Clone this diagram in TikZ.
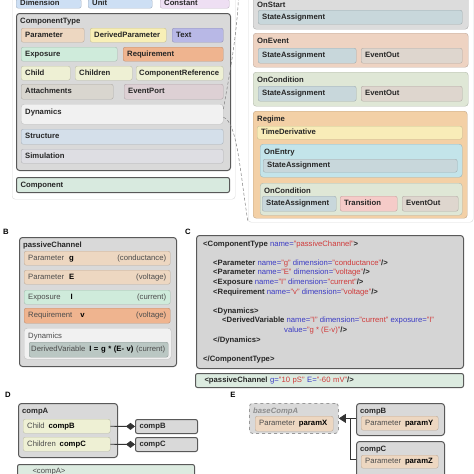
\documentclass[tikz,border=0pt]{standalone}
\usepackage{fontspec}
\setmainfont{Liberation Sans}
\usetikzlibrary{arrows.meta,positioning}

\definecolor{cDim}{HTML}{CDDFF4}
\definecolor{cCon}{HTML}{EEDFF3}
\definecolor{cGrp}{HTML}{D9D9D9}
\definecolor{cPar}{HTML}{EDD7C1}
\definecolor{cDPar}{HTML}{F8EFB6}
\definecolor{cTxt}{HTML}{B8B8E6}
\definecolor{cExp}{HTML}{CFEBDB}
\definecolor{cReq}{HTML}{EFB48F}
\definecolor{cChi}{HTML}{EEF0D4}
\definecolor{cAtt}{HTML}{D9D6CF}
\definecolor{cEvP}{HTML}{DDD0D4}
\definecolor{cDyn}{HTML}{F1F1F1}
\definecolor{cStr}{HTML}{D4DFEA}
\definecolor{cSim}{HTML}{DEDEE3}
\definecolor{cCmp}{HTML}{D8EADF}
\definecolor{cOS}{HTML}{DCDCDC}
\definecolor{cSA}{HTML}{C8D7DB}
\definecolor{cOE}{HTML}{EED3C2}
\definecolor{cEO}{HTML}{DED6CE}
\definecolor{cOC}{HTML}{DFE7D6}
\definecolor{cReg}{HTML}{F3D0A6}
\definecolor{cTD}{HTML}{F8ECB8}
\definecolor{cOEn}{HTML}{C3E4EA}
\definecolor{cTr}{HTML}{F5CBC8}
\definecolor{cDV}{HTML}{BAC7C3}
\definecolor{cCode}{HTML}{D5D5D5}
\definecolor{cInst}{HTML}{DCEBE0}
\definecolor{cBlue}{HTML}{3B3BC4}
\definecolor{cRed}{HTML}{D03A3A}

\newcommand{\fsz}{\fontsize{7.7pt}{9.6pt}\selectfont}
\newcommand{\xattr}[1]{\textcolor{cBlue}{#1}}
\newcommand{\xval}[1]{\textcolor{cRed}{#1}}
\newcommand{\pname}[1]{\textcolor{black}{\bfseries #1}}

\tikzset{
  tb/.style={fill=#1, draw=#1!80!black, rounded corners=2pt, anchor=north west,
    inner xsep=4pt, inner ysep=0pt, text height=5.5pt, text depth=1.5pt,
    align=left, font=\fsz\bfseries, text=black!85},
  tbr/.style={tb=#1, font=\fsz, text=black!70},
  grp/.style={fill=#1, draw=#1!80!black, rounded corners=3pt, anchor=north west, inner sep=0pt},
  dgrp/.style={grp=#1, draw=black!65, line width=1pt},
  lbl/.style={anchor=north west, inner sep=2pt, xshift=2pt, yshift=-3pt,
    font=\fsz\bfseries, text=black!85},
  panel/.style={font=\fsz\bfseries},
  code/.style={anchor=base west, inner sep=0pt, font=\fsz, text=black!85},
  zoomline/.style={draw=black!50, densely dashed, line width=0.5pt},
  conn/.style={draw=black!80, line width=0.8pt},
}

\begin{document}
\begin{tikzpicture}[x=1pt,y=-1pt]
\useasboundingbox (0,0) rectangle (474,474);
\clip (0,0) rectangle (474,474);

% A: element overview
\node[grp=white, draw=black!15, minimum width=223pt, minimum height=209pt] (outL) at (12,-10) {};
\node[tb=cDim, text width=57pt, minimum height=9pt] (dim) at (16,-1) {Dimension};
\node[tb=cDim, text width=56pt, minimum height=9pt] (unit) at (88,-1) {Unit};
\node[tb=cCon, text width=61pt, minimum height=9pt] (const) at (160,-1) {Constant};

\node[dgrp=cGrp, minimum width=214pt, minimum height=157pt] (ct) at (16,13) {};
\node[lbl] (ct-l) at (ct.north west) {ComponentType};
\node[tb=cPar, text width=55pt, minimum height=14pt] (par) at (21,28) {Parameter};
\node[tb=cDPar, text width=68pt, minimum height=14pt] (dpar) at (90,28) {DerivedParameter};
\node[tb=cTxt, text width=43pt, minimum height=14pt] (txt) at (172,28) {Text};
\node[tb=cExp, text width=88pt, minimum height=14pt] (expo) at (21,47) {Exposure};
\node[tb=cReq, text width=92pt, minimum height=14pt] (req) at (123,47) {Requirement};
\node[tb=cChi, text width=41pt, minimum height=14pt] (chi) at (21,66) {Child};
\node[tb=cChi, text width=49pt, minimum height=14pt] (chn) at (75,66) {Children};
\node[tb=cChi, inner xsep=3pt, text width=81pt, minimum height=14pt] (cref) at (136,66) {ComponentReference};
\node[tb=cAtt, text width=84pt, minimum height=15pt] (att) at (21,84) {Attachments};
\node[tb=cEvP, text width=91pt, minimum height=15pt] (evp) at (124,84) {EventPort};
\node[grp=cDyn, minimum width=202pt, minimum height=20pt] (dyn) at (21,104) {};
\node[lbl] (dyn-l) at (dyn.north west) {Dynamics};
\node[tb=cStr, text width=194pt, minimum height=15pt] (str) at (21,129) {Structure};
\node[tb=cSim, text width=194pt, minimum height=14pt] (sim) at (21,149) {Simulation};
\node[tb=cCmp, draw=black!65, line width=1pt, text width=205pt, minimum height=15pt] (comp) at (16,177) {Component};

% A: dynamics in detail
\node[grp=white, draw=black!15, minimum width=225pt, minimum height=232pt] (outR) at (248,-10) {};
\node[grp=cOS, minimum width=215pt, minimum height=32pt] (os) at (253,-3) {};
\node[lbl] (os-l) at (os.north west) {OnStart};
\node[tb=cSA, text width=196pt, minimum height=14pt] (sa0) at (258,10) {StateAssignment};
\node[grp=cOE, minimum width=215pt, minimum height=34pt] (oe) at (253,33) {};
\node[lbl] (oe-l) at (oe.north west) {OnEvent};
\node[tb=cSA, text width=90pt, minimum height=15pt] (sa1) at (258,48) {StateAssignment};
\node[tb=cEO, text width=93pt, minimum height=15pt] (eo1) at (361,48) {EventOut};
\node[grp=cOC, minimum width=215pt, minimum height=34pt] (oc) at (253,72) {};
\node[lbl] (oc-l) at (oc.north west) {OnCondition};
\node[tb=cSA, text width=90pt, minimum height=15pt] (sa2) at (258,86) {StateAssignment};
\node[tb=cEO, text width=93pt, minimum height=15pt] (eo2) at (361,86) {EventOut};
\node[grp=cReg, minimum width=214pt, minimum height=107pt] (reg) at (253,111) {};
\node[lbl] (reg-l) at (reg.north west) {Regime};
\node[tb=cTD, text width=197pt, minimum height=13pt] (td) at (257,126) {TimeDerivative};
\node[grp=cOEn, minimum width=202pt, minimum height=33pt] (oen) at (260,144) {};
\node[lbl] (oen-l) at (oen.north west) {OnEntry};
\node[tb=cSA, text width=186pt, minimum height=13pt] (sa3) at (263,159) {StateAssignment};
\node[grp=cOC, minimum width=202pt, minimum height=32pt] (oc2) at (260,183) {};
\node[lbl] (oc2-l) at (oc2.north west) {OnCondition};
\node[tb=cSA, text width=66pt, minimum height=15pt] (sa4) at (262,196) {StateAssignment};
\node[tb=cTr, text width=49pt, minimum height=15pt] (tr) at (340,196) {Transition};
\node[tb=cEO, text width=48pt, minimum height=15pt] (eo3) at (402,196) {EventOut};

% zoom lines
\coordinate (zoomtop) at (239,-12);
\draw[zoomline] ([yshift=5pt]dyn.east) .. controls +(6,-35) and +(-2,50) .. (zoomtop);
\draw[zoomline] ([yshift=-3pt]dyn.east) .. controls +(14,5) and +(-8,-50) .. (outR.south west);

% B
\node[panel] (lB) at (6,232) {B};
\node[dgrp=cGrp, minimum width=157pt, minimum height=129pt] (pc) at (19,237) {};
\node[lbl] (pc-l) at (pc.north west) {passiveChannel};
\node[tbr=cPar, text width=138pt, minimum height=14pt] (pg) at (24,251) {Parameter\hspace{5pt}\pname{g}\hspace{0pt plus 1filll}(conductance)};
\node[tbr=cPar, text width=138pt, minimum height=14pt] (pE) at (24,270) {Parameter\hspace{5pt}\pname{E}\hspace{0pt plus 1filll}(voltage)};
\node[tbr=cExp, text width=138pt, minimum height=14pt] (pI) at (24,290) {Exposure\hspace{10pt}\pname{I}\hspace{0pt plus 1filll}(current)};
\node[tbr=cReq, text width=138pt, minimum height=15pt] (pv) at (24,308) {Requirement\hspace{8pt}\pname{v}\hspace{0pt plus 1filll}(voltage)};
\node[grp=cDyn, minimum width=147pt, minimum height=31pt] (pdyn) at (24,328) {};
\node[lbl, font=\fsz, text=black!70] (pdyn-l) at (pdyn.north west) {Dynamics};
\node[tbr=cDV, inner xsep=2pt, text width=135pt, minimum height=15pt] (dv) at (29,342) {DerivedVariable\enspace\pname{I = g * (E- v)} (current)};

% C
\node[panel] (lC) at (188,232) {C};
\node[dgrp=cCode, minimum width=267pt, minimum height=133pt] (code) at (196,235) {};
\node[code] (c1) at (203,246) {\textbf{<ComponentType} \xattr{name=}\xval{"passiveChannel"}\textbf{>}};
\node[code] (c2) at (213,265.2) {\textbf{<Parameter} \xattr{name=}\xval{"g"} \xattr{dimension=}\xval{"conductance"}\textbf{/>}};
\node[code] (c3) at (213,274.8) {\textbf{<Parameter} \xattr{name=}\xval{"E"} \xattr{dimension=}\xval{"voltage"}\textbf{/>}};
\node[code] (c4) at (213,284.4) {\textbf{<Exposure} \xattr{name=}\xval{"I"} \xattr{dimension=}\xval{"current"}\textbf{/>}};
\node[code] (c5) at (213,294) {\textbf{<Requirement} \xattr{name=}\xval{"v"} \xattr{dimension=}\xval{"voltage"}\textbf{/>}};
\node[code] (c6) at (213,313.2) {\textbf{<Dynamics>}};
\node[code] (c7) at (222,322.8) {\textbf{<DerivedVariable} \xattr{name=}\xval{"I"} \xattr{dimension=}\xval{"current"} \xattr{exposure=}\xval{"I"}};
\node[code] (c8) at (284,332.4) {\xattr{value=}\xval{"g * (E-v)"}\textbf{/>}};
\node[code] (c9) at (213,342) {\textbf{</Dynamics>}};
\node[code] (c10) at (203,361.2) {\textbf{</ComponentType>}};
\node[tbr=cInst, draw=black!65, line width=1pt, inner xsep=9pt, text width=250pt, minimum height=14pt, text=black!85] (inst) at (195,373)
  {\textbf{<passiveChannel} \xattr{g=}\xval{"10 pS"} \xattr{E=}\xval{"-60 mV"}\textbf{/>}};

% D
\node[panel] (lD) at (8,395) {D};
\node[dgrp=cGrp, minimum width=99pt, minimum height=54pt] (cA) at (18,403) {};
\node[lbl] (cA-l) at (cA.north west) {compA};
\node[tbr=cChi, text width=79pt, minimum height=14pt] (chB) at (23,419) {Child\enspace\pname{compB}};
\node[tbr=cChi, text width=79pt, minimum height=14pt] (chC) at (23,437) {Children\enspace\pname{compC}};
\node[tb=cGrp, draw=black!65, line width=1pt, text width=54pt, minimum height=14pt] (dB) at (135,419) {compB};
\node[tb=cGrp, draw=black!65, line width=1pt, text width=54pt, minimum height=14pt] (dC) at (135,437) {compC};
\draw[conn, -{Diamond[length=9pt,width=7pt]}] (chB) -- (dB);
\draw[conn, -{Diamond[length=9pt,width=7pt]}] (chC) -- (dC);
\node[tbr=cInst, draw=black!65, line width=1pt, inner xsep=15pt, text width=147pt, minimum height=14pt] (aI) at (17,464) {<compA>};

% E
\node[panel] (lE) at (233,395) {E};
\node[grp=cGrp, draw=black!40, dashed, line width=0.8pt, minimum width=89pt, minimum height=30pt] (base) at (249,403) {};
\node[lbl, font=\fsz\bfseries\itshape, text=black!45] (base-l) at (base.north west) {baseCompA};
\node[tbr=cPar, text width=70pt, minimum height=15pt] (pX) at (255,416) {Parameter\enspace\pname{paramX}};
\node[dgrp=cGrp, minimum width=88pt, minimum height=32pt] (eB) at (356,403) {};
\node[lbl] (eB-l) at (eB.north west) {compB};
\node[tbr=cPar, text width=69pt, minimum height=14pt] (pY) at (361,416) {Parameter\enspace\pname{paramY}};
\node[dgrp=cGrp, minimum width=88pt, minimum height=36pt] (eC) at (356,441) {};
\node[lbl] (eC-l) at (eC.north west) {compC};
\node[tbr=cPar, text width=69pt, minimum height=13pt] (pZ) at (361,455) {Parameter\enspace\pname{paramZ}};
\draw[conn, -{Triangle[length=7pt,width=9pt]}] (eB.west |- base.east) -- (base.east);
\draw[conn] (eC.west) -| ([xshift=-6pt]eB.west |- base.east);
\end{tikzpicture}
\end{document}
